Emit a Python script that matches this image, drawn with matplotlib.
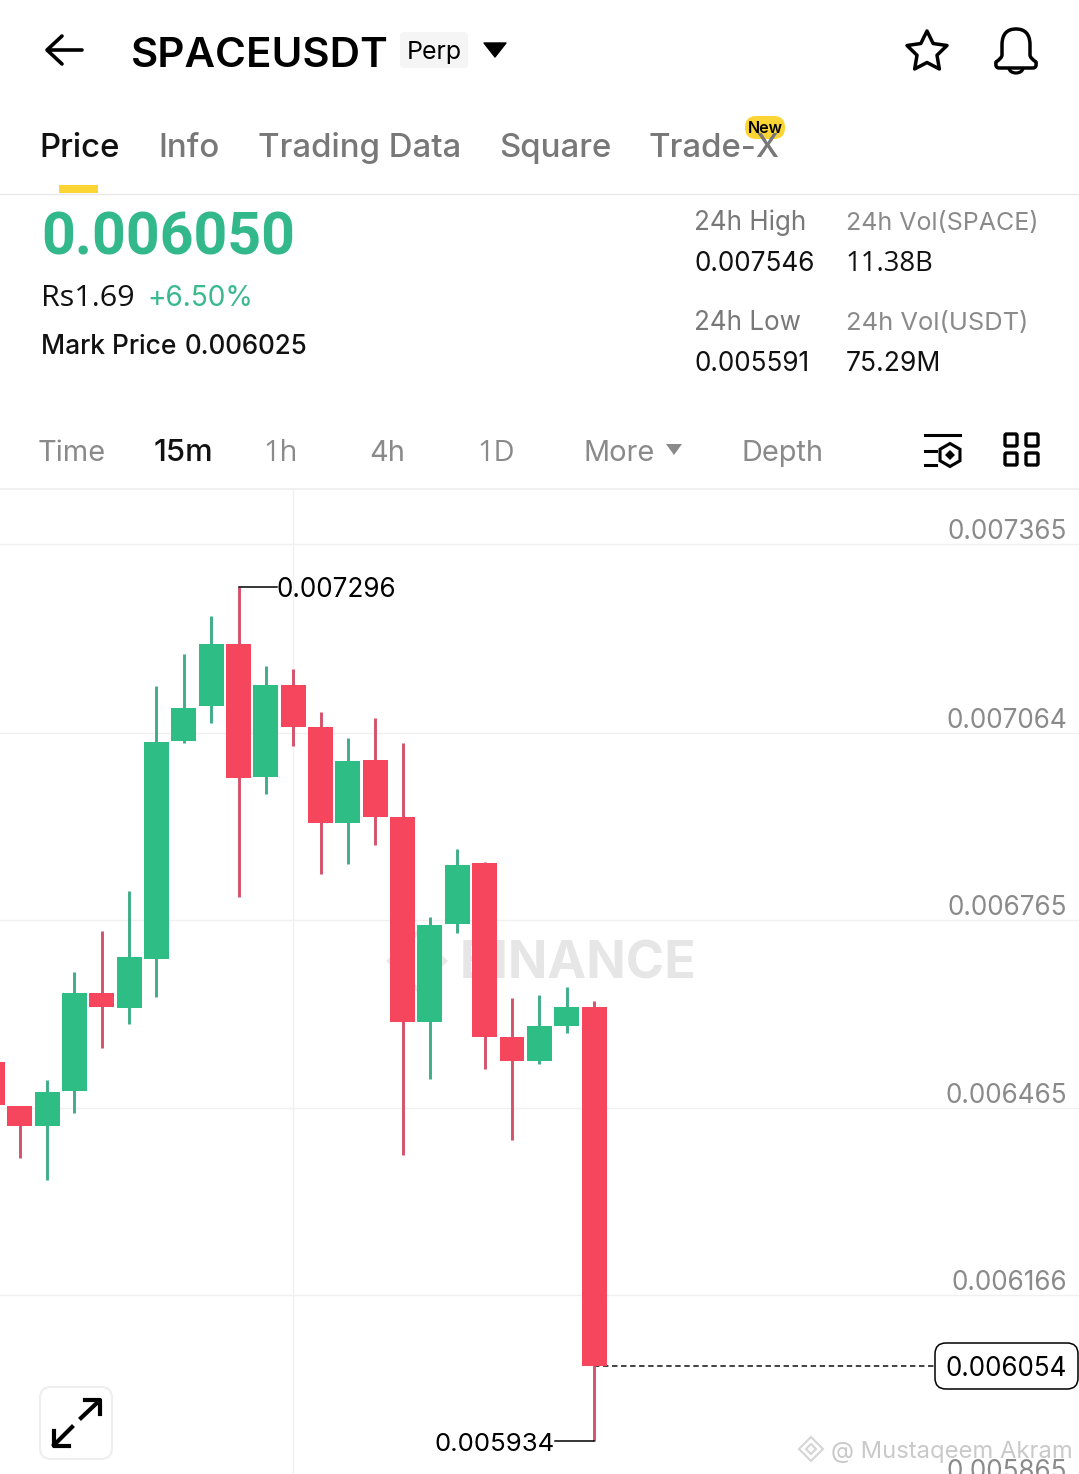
import numpy as np
import matplotlib
matplotlib.use("Agg")
import matplotlib.pyplot as plt
from matplotlib.patches import FancyBboxPatch, Polygon, Rectangle, Arc
from matplotlib.path import Path
from matplotlib.patches import PathPatch

plt.rcParams['font.family'] = ['Inter', 'DejaVu Sans']

ANCHO, ALTO = 1079, 1474

# candles, values (first one is cut by the left edge)
indices = list(range(-1, 22))
aperturas = [0.006538, 0.006468, 0.006436, 0.006492, 0.006648, 0.006625, 0.006703, 0.007051,
             0.007106, 0.007205, 0.006993, 0.007140, 0.007073, 0.006920, 0.007020, 0.006929,
             0.006602, 0.006759, 0.006856, 0.006578, 0.006540, 0.006596, 0.006626]
maximos = [0.006538, 0.006468, 0.006510, 0.006682, 0.006747, 0.006811, 0.007138, 0.007190,
           0.007250, 0.007296, 0.007170, 0.007166, 0.007097, 0.007055, 0.007087, 0.007047,
           0.006770, 0.006878, 0.006858, 0.006641, 0.006645, 0.006658, 0.006636]
minimos = [0.006470, 0.006385, 0.006350, 0.006457, 0.006561, 0.006599, 0.006642, 0.007047,
           0.007079, 0.006802, 0.006966, 0.007043, 0.006838, 0.006854, 0.006885, 0.006390,
           0.006511, 0.006744, 0.006527, 0.006414, 0.006535, 0.006585, 0.005934]
cierres = [0.006470, 0.006436, 0.006491, 0.006648, 0.006626, 0.006706, 0.007049, 0.007103,
           0.007205, 0.006992, 0.007140, 0.007073, 0.006920, 0.007019, 0.006929, 0.006602,
           0.006757, 0.006853, 0.006578, 0.006540, 0.006596, 0.006626, 0.006054]
ticks_precio = [0.007365, 0.007064, 0.006765, 0.006465, 0.006166, 0.005865]
precio_ultimo = 0.006054

tabs = ["Price", "Info", "Trading Data", "Square", "Trade-X"]
tabs_x = [39, 158, 258, 499, 649]
tiempos = ["Time", "15m", "1h", "4h", "1D", "More", "Depth"]
tiempos_x = [38, 154, 263, 369, 477, 584, 741]

VERDE = '#2EBD85'
ROJO = '#F6465D'
VERDE_MECHA = '#3FAE86'
ROJO_MECHA = '#D4526A'
GRIS = '#787878'
GRIS_CLARO = '#8A8A8A'
LINEA = '#F0F0F0'
AMARILLO = '#FCD535'
TABULAR = ['Open Sans', 'DejaVu Sans']

fig = plt.figure(figsize=(ANCHO / 100, ALTO / 100), dpi=100, facecolor='white')

# background layer for the watermark, chart, then top layer for the app chrome
fondo = fig.add_axes([0, 0, 1, 1], zorder=0)
fondo.set_xlim(0, ANCHO)
fondo.set_ylim(ALTO, 0)
fondo.axis('off')

TOPE = 490
ax = fig.add_axes([0, 0, 1, (ALTO - TOPE) / ALTO], zorder=1)
ax.patch.set_alpha(0)
for lado in ax.spines.values():
    lado.set_visible(False)

ui = fig.add_axes([0, 0, 1, 1], zorder=2)
ui.set_xlim(0, ANCHO)
ui.set_ylim(ALTO, 0)
ui.axis('off')


def texto(x, y, s, px, color='black', weight='normal', ha='left', capa=None, familia=None):
    t = (capa or ui).text(x, y, s, fontsize=px * 0.72, color=color, fontweight=weight, ha=ha, va='baseline')
    if familia:
        t.set_family(familia)


def rombo(capa, x, y, r, color, lw=1.5):
    capa.add_patch(Polygon([(x - r, y), (x, y - r), (x + r, y), (x, y + r)], closed=True, fill=False, ec=color, lw=lw))


# chart
paso = 27.35
x0 = 19.7
ax.set_xlim((0 - x0) / paso, (ANCHO - x0) / paso)
ax.set_yticks(ticks_precio)
ax.set_xticks([10])
escala = 0.0015 / 940
ax.set_ylim(ticks_precio[0] - (ALTO - 544) * escala, ticks_precio[0] + (544 - TOPE) * escala)
ax.grid(True, color=LINEA, lw=1.0)
ax.set_axisbelow(True)
ax.tick_params(length=0, labelleft=False, labelbottom=False)

colores = [VERDE if c >= a else ROJO for a, c in zip(aperturas, cierres)]
mechas = [VERDE_MECHA if c >= a else ROJO_MECHA for a, c in zip(aperturas, cierres)]
ax.vlines(indices, minimos, maximos, colors=mechas, lw=2.1, zorder=3)
ax.bar(indices, np.array(cierres) - np.array(aperturas), bottom=aperturas, width=0.914,
       color=colores, lw=0, zorder=4)

# price labels on the right side
for v in ticks_precio:
    ax.annotate(f"{v:.6f}", xy=(1, v), xycoords=ax.get_yaxis_transform(), xytext=(-12, 5),
                textcoords='offset pixels', ha='right', va='baseline', fontsize=18.8, color=GRIS_CLARO)

# highest / lowest callouts
i_max = int(np.argmax(maximos))
i_min = int(np.argmin(minimos))
ax.plot([indices[i_max], indices[i_max] + 38 / paso], [maximos[i_max]] * 2, color='black', lw=1.1, zorder=5)
ax.annotate(f"{maximos[i_max]:.6f}", xy=(indices[i_max], maximos[i_max]), xytext=(38, -10),
            textcoords='offset pixels', ha='left', va='baseline', fontsize=18.8)
ax.plot([indices[i_min] - 39 / paso, indices[i_min]], [minimos[i_min]] * 2, color='black', lw=1.1, zorder=5)
ax.annotate(f"{minimos[i_min]:.6f}", xy=(indices[i_min], minimos[i_min]), xytext=(-39, -10),
            textcoords='offset pixels', ha='right', va='baseline', fontsize=18.6)

# last price line and box
ax.hlines(precio_ultimo, indices[-1], (935 - x0) / paso, color='#333333', lw=1.3, linestyles=(0, (3, 2)), zorder=2)
ui.add_patch(FancyBboxPatch((935, 1343), 143, 46, boxstyle='round,pad=0,rounding_size=11',
                            fc='white', ec='black', lw=1.1))
texto(1067, 1376, f"{precio_ultimo:.6f}", 26, ha='right')

# watermarks
texto(460, 978, "BINANCE", 52, color='#E6E6E6', weight='bold', capa=fondo)
rombo(fondo, 417, 961, 28, '#E8E8E8', lw=3)
rombo(ui, 811, 1449, 12, '#D5D5D5')
rombo(ui, 811, 1449, 5, '#D5D5D5')
texto(831, 1458, "@ Mustaqeem Akram", 23.8, color='#C9C9C9')

# header
ui.plot([82, 48], [50, 50], color='black', lw=2.6, solid_capstyle='round')
ui.plot([62, 47, 62], [36, 50, 64], color='black', lw=2.6, solid_capstyle='round', solid_joinstyle='round')
texto(131, 67, "SPACEUSDT", 42, weight='semibold')
ui.add_patch(FancyBboxPatch((400, 32), 68, 36, boxstyle='round,pad=0,rounding_size=4', fc='#F5F5F5', ec='none'))
texto(407, 59, "Perp", 25)
ui.add_patch(Polygon([(484, 43), (506, 43), (495, 57)], closed=True, fc='black', ec='black', lw=1, joinstyle='round'))

# star
ang = np.pi / 2 + np.arange(10) * np.pi / 5
rad = np.where(np.arange(10) % 2 == 0, 21, 10.5)
ui.add_patch(Polygon(np.c_[927 + rad * np.cos(ang), 52 - rad * np.sin(ang)], closed=True, fill=False,
                     ec='black', lw=2.5, joinstyle='round'))

# bell
campana = Path([(1002, 45), (1002, 33), (1008, 29), (1016, 29), (1024, 29), (1030, 33), (1030, 45),
                (1030, 55), (1030, 58), (1036, 62), (1037, 68), (1033, 68), (999, 68),
                (995, 68), (996, 62), (1002, 58), (1002, 55), (1002, 45)],
               [Path.MOVETO, Path.CURVE4, Path.CURVE4, Path.CURVE4, Path.CURVE4, Path.CURVE4, Path.CURVE4,
                Path.LINETO, Path.CURVE3, Path.CURVE3, Path.CURVE3, Path.CURVE3, Path.LINETO,
                Path.CURVE3, Path.CURVE3, Path.CURVE3, Path.CURVE3, Path.LINETO])
ui.add_patch(PathPatch(campana, fill=False, ec='black', lw=2.5, joinstyle='round'))
ui.add_patch(Arc((1016, 68), 14, 10, theta1=0, theta2=180, ec='black', lw=2.3))

# tabs
for i, (nombre, x) in enumerate(zip(tabs, tabs_x)):
    texto(x, 157, nombre, 33, color='#111111' if i == 0 else GRIS, weight='medium')
ui.add_patch(Rectangle((59, 185), 39, 8, fc=AMARILLO, ec='none'))
ui.plot([0, ANCHO], [193.5, 193.5], color='#E8E8E8', lw=1)
ui.add_patch(FancyBboxPatch((745, 116), 40, 23, boxstyle='round,pad=0,rounding_size=11', fc=AMARILLO, ec='none'))
texto(765, 133, "New", 16, weight='semibold', ha='center')

# price block
texto(41, 254, "0.006050", 59, color='#32B88A', weight='bold', familia=['Roboto', 'DejaVu Sans'])
texto(41, 306, "Rs1.69", 30.5, color='#111111', familia=TABULAR)
texto(147, 306, "+6.50%", 28, color='#39B98C')
texto(41, 354, "Mark Price", 26.4, color='#111111', weight='medium')
texto(185, 354, "0.006025", 26, color='#111111', weight='medium')

texto(694, 230, "24h High", 26, color=GRIS)
texto(695, 271, "0.007546", 26.2, color='#111111')
texto(846, 230, "24h Vol(SPACE)", 25, color=GRIS_CLARO)
texto(846, 271, "11.38B", 27.5, color='#111111', familia=TABULAR)
texto(694, 330, "24h Low", 26, color=GRIS)
texto(695, 371, "0.005591", 26.2, color='#111111')
texto(846, 330, "24h Vol(USDT)", 25.5, color=GRIS_CLARO)
texto(846, 371, "75.29M", 26.5, color='#111111')

# interval row
for nombre, x in zip(tiempos, tiempos_x):
    if nombre == "15m":
        texto(x, 461, nombre, 31, color='#111111', weight='medium')
    elif nombre.startswith("1"):
        texto(x, 461, nombre, 29, color=GRIS_CLARO, familia=TABULAR)
    else:
        texto(x, 461, nombre, 29, color=GRIS_CLARO)
ui.add_patch(Polygon([(666, 444), (682, 444), (674, 455)], closed=True, fc='#8A8A8A', ec='none'))
ui.plot([0, ANCHO], [489, 489], color='#F0F0F0', lw=1.5)

# settings icon
ui.plot([925, 960], [435, 435], color='black', lw=2.2)
ui.plot([925, 936], [451, 451], color='black', lw=2.2)
ui.plot([925, 936], [465, 465], color='black', lw=2.2)
a_hex = np.pi / 2 + np.arange(6) * np.pi / 3
ui.add_patch(Polygon(np.c_[950 + 11.5 * np.cos(a_hex), 455 - 11.5 * np.sin(a_hex)], closed=True, fill=False,
                     ec='black', lw=2.2))
ui.add_patch(Polygon([(945, 455), (950, 450), (955, 455), (950, 460)], closed=True, fc='black', ec='none'))

# layout icon
for cx in (1005, 1026):
    for cy in (434, 453):
        ui.add_patch(FancyBboxPatch((cx, cy), 12, 12, boxstyle='round,pad=0,rounding_size=1.5',
                                    fill=False, ec='black', lw=2.4))

# expand button
ui.add_patch(FancyBboxPatch((40, 1387), 72, 72, boxstyle='round,pad=0,rounding_size=11', fc='white', ec='#EEEEEE', lw=1.5))
ui.plot([81, 99], [1418, 1401], color='black', lw=3)
ui.plot([85, 100, 100], [1400, 1400, 1414], color='black', lw=3)
ui.plot([72, 54], [1427, 1445], color='black', lw=3)
ui.plot([54, 54, 69], [1431, 1446, 1446], color='black', lw=3)

fig.savefig('out.png', dpi=100, facecolor='white')
